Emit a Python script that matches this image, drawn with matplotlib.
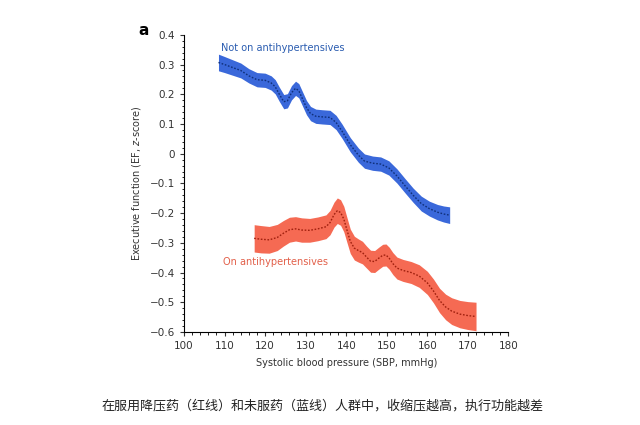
import matplotlib
matplotlib.use("Agg")
import matplotlib.pyplot as plt
import numpy as np
from matplotlib.ticker import MultipleLocator

# ── Data ─────────────────────────────────────────────────────────────────────
sbp_not = [108.5, 110, 112, 114, 116, 118, 120, 121.5, 122.5, 123.5, 124.6,
           125.5, 126.5, 127.5, 128.3, 129.2, 130.2, 131.2, 132.5, 134, 136,
           137.5, 139, 141, 143, 144.5, 146.5, 148.5, 150.5, 152.5, 154.5,
           156.5, 158.5, 160.5, 162.5, 164, 165.5]
ef_not = [0.307, 0.300, 0.290, 0.280, 0.262, 0.249, 0.247, 0.238, 0.225, 0.200,
          0.175, 0.178, 0.205, 0.220, 0.212, 0.185, 0.155, 0.135, 0.126, 0.124,
          0.122, 0.105, 0.075, 0.030, -0.005, -0.025, -0.032, -0.035, -0.048,
          -0.075, -0.108, -0.140, -0.168, -0.185, -0.197, -0.203, -0.207]
ci_not = [0.028, 0.027, 0.026, 0.025, 0.024, 0.024, 0.024, 0.024, 0.024, 0.024,
          0.024, 0.024, 0.024, 0.024, 0.024, 0.024, 0.024, 0.024, 0.024, 0.024,
          0.024, 0.024, 0.024, 0.024, 0.024, 0.024, 0.024, 0.024, 0.024, 0.024,
          0.024, 0.024, 0.025, 0.025, 0.026, 0.027, 0.028]

sbp_on = [117.3, 119, 121, 123, 124.5, 126, 127.5, 129, 131, 133, 135, 136,
          137, 137.8, 138.6, 139.4, 140.2, 141, 142, 143, 144, 145, 146, 147,
          148, 149, 149.8, 150.6, 151.5, 152.5, 154, 156, 158, 160, 161.5, 163,
          164.5, 166, 168, 170, 172]
ef_on = [-0.285, -0.288, -0.290, -0.282, -0.268, -0.256, -0.253, -0.257, -0.258,
         -0.253, -0.246, -0.232, -0.205, -0.192, -0.198, -0.220, -0.258, -0.295,
         -0.318, -0.326, -0.333, -0.348, -0.362, -0.363, -0.352, -0.342, -0.341,
         -0.352, -0.370, -0.385, -0.393, -0.400, -0.412, -0.435, -0.462, -0.494,
         -0.516, -0.530, -0.540, -0.545, -0.548]
ci_on = [0.046, 0.046, 0.045, 0.044, 0.043, 0.042, 0.041, 0.041, 0.040, 0.040,
         0.040, 0.041, 0.042, 0.043, 0.043, 0.043, 0.042, 0.041, 0.040, 0.039,
         0.038, 0.037, 0.037, 0.037, 0.037, 0.037, 0.037, 0.037, 0.037, 0.037,
         0.037, 0.037, 0.038, 0.039, 0.040, 0.041, 0.043, 0.045, 0.046, 0.047,
         0.048]

BLUE_FILL, BLUE_LINE, BLUE_TEXT = "#2f60d8", "#10307a", "#2a5cb0"
RED_FILL, RED_LINE, RED_TEXT = "#f5624a", "#a0200e", "#e2604a"

fig = plt.figure(figsize=(6.4, 4.25), dpi=100)
ax = fig.add_axes([0.2875, 0.219, 0.507, 0.699])

for x, y, ci, fc, lc in [(sbp_not, ef_not, ci_not, BLUE_FILL, BLUE_LINE),
                         (sbp_on, ef_on, ci_on, RED_FILL, RED_LINE)]:
    x, y, ci = np.array(x), np.array(y), np.array(ci)
    ax.fill_between(x, y - ci, y + ci, color=fc, lw=0, alpha=0.95)
    ax.plot(x, y, color=lc, lw=1.0, ls=(0, (1.2, 1.2)))

ax.text(109, 0.355, "Not on antihypertensives", color=BLUE_TEXT, fontsize=7,
        ha="left", va="center")
ax.text(109.5, -0.364, "On antihypertensives", color=RED_TEXT, fontsize=7,
        ha="left", va="center")

ax.set_xlim(100, 180)
ax.set_ylim(-0.6, 0.4)
ax.xaxis.set_major_locator(MultipleLocator(10))
ax.xaxis.set_minor_locator(MultipleLocator(2))
ax.yaxis.set_major_locator(MultipleLocator(0.1))
ax.yaxis.set_minor_locator(MultipleLocator(0.02))
ax.set_yticklabels([f"{v:.1f}".replace("-", "\u2212") if abs(v) > 1e-9 else "0"
                    for v in ax.get_yticks()])
for s in ["top", "right"]:
    ax.spines[s].set_visible(False)
for s in ["left", "bottom"]:
    ax.spines[s].set_linewidth(0.8)
ax.tick_params(which="major", length=3, width=0.8, labelsize=7.5, colors="#333333")
ax.tick_params(which="minor", length=1.8, width=0.6)

ax.set_xlabel("Systolic blood pressure (SBP, mmHg)", fontsize=7, color="#333333",
              labelpad=5)
ax.set_ylabel("Executive function (EF, $z$-score)", fontsize=7, color="#333333",
              labelpad=5)

fig.text(0.225, 0.928, "a", fontsize=11, fontweight="bold", ha="center", va="center")
fig.text(0.504, 0.045, "在服用降压药（红线）和未服药（蓝线）人群中，收缩压越高，执行功能越差",
         fontsize=9.4, ha="center", va="center", color="#222222",
         family=["Noto Sans CJK SC", "DejaVu Sans"])

fig.savefig("out.png", dpi=100)
